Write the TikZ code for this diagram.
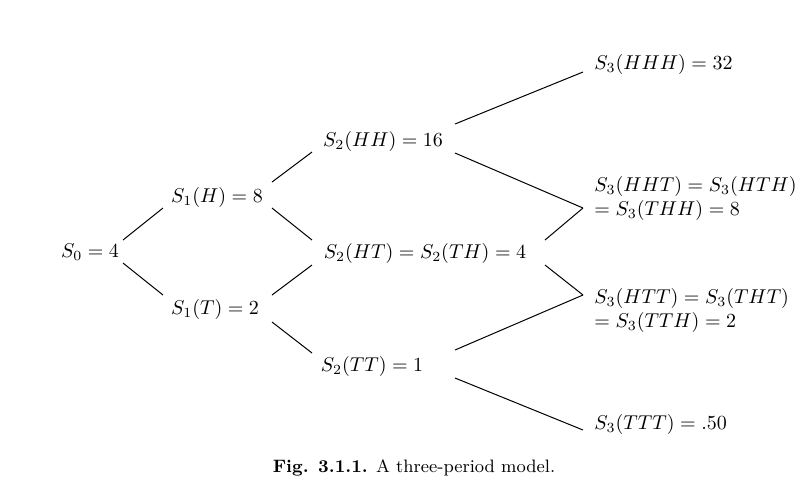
\documentclass[tikz,border=0pt]{standalone}
\begin{document}
\begin{tikzpicture}[x=0.5pt,y=-0.5pt,
  lbl/.style={inner sep=0pt, font=\normalsize},
  edge/.style={line width=0.5pt}]
\useasboundingbox (0,0) rectangle (809,495);
\node[lbl] (s0) at (90,252) {$S_0=4$};
\node[lbl] (h) at (217,197) {$S_1(H)=8$};
\node[lbl] (t) at (215,309) {$S_1(T)=2$};
\node[lbl] (hh) at (383,141) {$S_2(HH)=16$};
\node[lbl] (ht) at (425,253) {$S_2(HT)=S_2(TH)=4$};
\node[lbl] (tt) at (372,366) {$S_2(TT)=1$};
\node[lbl,anchor=west] (hhh) at (594,64) {$S_3(HHH)=32$};
\node[lbl,anchor=west,align=left] (hht) at (594,198) {$S_3(HHT)=S_3(HTH)$\\$=S_3(THH)=8$};
\node[lbl,anchor=west,align=left] (htt) at (594,310) {$S_3(HTT)=S_3(THT)$\\$=S_3(TTH)=2$};
\node[lbl,anchor=west] (ttt) at (594,424) {$S_3(TTT)=.50$};
\node[lbl,font=\small] (cap) at (414,468) {\textbf{Fig. 3.1.1.} A three-period model.};
\coordinate (j1) at (583,208);
\coordinate (j2) at (583,295);
\draw[edge] (123,240) -- (163,208);
\draw[edge] (123,263) -- (163,295);
\draw[edge] (272,182) -- (312,152);
\draw[edge] (272,208) -- (312,240);
\draw[edge] (272,295) -- (312,265);
\draw[edge] (272,322) -- (312,353);
\draw[edge] (455,124) -- (583,72);
\draw[edge] (455,153) -- (j1);
\draw[edge] (545,240) -- (j1);
\draw[edge] (545,265) -- (j2);
\draw[edge] (455,350) -- (j2);
\draw[edge] (455,378) -- (583,430);
\end{tikzpicture}
\end{document}
